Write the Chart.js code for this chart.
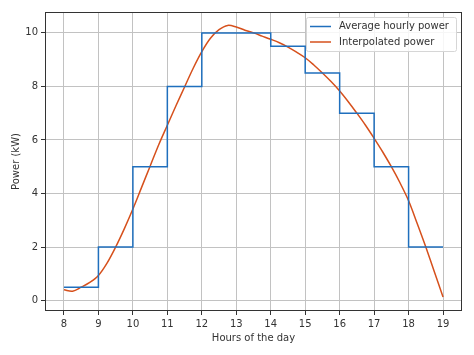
<!DOCTYPE html>
<html>
<head>
<meta charset="utf-8">
<script src="https://cdn.jsdelivr.net/npm/chart.js@4"></script>
<style>
  html, body { margin: 0; padding: 0; background: #fff; }
  #wrap { width: 474px; height: 355px; }
</style>
</head>
<body>
<div id="wrap"><canvas id="powerChart" width="474" height="355"></canvas></div>
<script>
// average power for each hour (held from hour to next hour)
const hours = [8, 9, 10, 11, 12, 13, 14, 15, 16, 17, 18, 19];
const hourlyPower = [0.5, 2, 5, 8, 10, 10, 9.5, 8.5, 7, 5, 2, 2];

// interpolated curve, every quarter hour
const curveHours = [8, 8.25, 8.5, 8.75, 9, 9.25, 9.5, 9.75, 10, 10.25, 10.5, 10.75, 11, 11.25, 11.5, 11.75,
    12, 12.25, 12.5, 12.75, 13, 13.25, 13.5, 13.75, 14, 14.25, 14.5, 14.75, 15, 15.25, 15.5, 15.75,
    16, 16.25, 16.5, 16.75, 17, 17.25, 17.5, 17.75, 18, 18.25, 18.5, 18.75, 19];
const curvePower = [0.40, 0.35, 0.50, 0.68, 0.94, 1.40, 2.00, 2.68, 3.42, 4.22, 5.02, 5.82, 6.55, 7.28, 7.98, 8.68,
    9.30, 9.80, 10.12, 10.28, 10.22, 10.10, 10.00, 9.88, 9.76, 9.63, 9.47, 9.28, 9.07, 8.80, 8.50, 8.18,
    7.83, 7.43, 7.00, 6.55, 6.06, 5.55, 5.00, 4.40, 3.73, 2.88, 2.00, 1.07, 0.13];

const xTicks = [8, 9, 10, 11, 12, 13, 14, 15, 16, 17, 18, 19];
const yTicks = [0, 2, 4, 6, 8, 10];

const seriesNames = ['Average hourly power', 'Interpolated power'];
const seriesColors = ['#1f6fbd', '#d6501c'];

const font = { family: 'DejaVu Sans', size: 10 };
const textColor = '#333';
const gridColor = '#c2c2c2';

const framePlugin = {
    id: 'frame',
    afterDraw(chart) {
        const { ctx, chartArea: a } = chart;
        ctx.save();
        ctx.strokeStyle = '#333';
        ctx.lineWidth = 1;
        ctx.strokeRect(a.left + 0.5, a.top + 0.5, a.right - a.left - 1, a.bottom - a.top - 1);

        // legend box, top right
        const bx = a.right - 156, by = a.top + 5, bw = 150, bh = 34;
        ctx.fillStyle = 'rgba(255,255,255,0.85)';
        ctx.strokeStyle = '#d6d6d6';
        ctx.beginPath();
        ctx.roundRect(bx + 0.5, by + 0.5, bw, bh, 2);
        ctx.fill();
        ctx.stroke();
        ctx.font = '10px "DejaVu Sans"';
        ctx.textBaseline = 'middle';
        ctx.textAlign = 'left';
        seriesNames.forEach((name, i) => {
            const y = by + 9.5 + i * 15.5;
            ctx.strokeStyle = seriesColors[i];
            ctx.lineWidth = 1.5;
            ctx.beginPath();
            ctx.moveTo(bx + 4, y);
            ctx.lineTo(bx + 25, y);
            ctx.stroke();
            ctx.fillStyle = textColor;
            ctx.fillText(name, bx + 33, y);
        });
        ctx.restore();
    }
};

new Chart(document.getElementById('powerChart').getContext('2d'), {
    type: 'line',
    data: {
        datasets: [{
            label: seriesNames[0],
            data: hours.map((h, i) => ({ x: h, y: hourlyPower[i] })),
            borderColor: seriesColors[0],
            borderWidth: 1.5,
            pointRadius: 0,
            stepped: 'before',
            fill: false
        }, {
            label: seriesNames[1],
            data: curveHours.map((h, i) => ({ x: h, y: curvePower[i] })),
            borderColor: seriesColors[1],
            borderWidth: 1.5,
            pointRadius: 0,
            tension: 0.35,
            fill: false
        }]
    },
    options: {
        responsive: false,
        animation: false,
        layout: { padding: { top: 12, right: 12, left: 0, bottom: 0 } },
        plugins: { legend: { display: false }, tooltip: { enabled: false } },
        scales: {
            x: {
                type: 'linear',
                min: 7.45,
                max: 19.55,
                afterBuildTicks: s => { s.ticks = xTicks.map(v => ({ value: v })); },
                afterFit: s => { s.height = 44; },
                ticks: { font, color: textColor, padding: 3, maxRotation: 0 },
                grid: { color: gridColor, lineWidth: 1, tickColor: '#333', tickLength: 4 },
                border: { display: false },
                title: { display: true, text: 'Hours of the day', font, color: textColor, padding: { top: 0, bottom: 11 } }
            },
            y: {
                type: 'linear',
                min: -0.39,
                max: 10.78,
                afterBuildTicks: s => { s.ticks = yTicks.map(v => ({ value: v })); },
                afterFit: s => { s.width = 45; },
                ticks: { font, color: textColor, padding: 3 },
                grid: { color: gridColor, lineWidth: 1, tickColor: '#333', tickLength: 4 },
                border: { display: false },
                title: { display: true, text: 'Power (kW)', font, color: textColor, padding: { top: 10, bottom: 0 } }
            }
        }
    },
    plugins: [framePlugin]
});
</script>
</body>
</html>
